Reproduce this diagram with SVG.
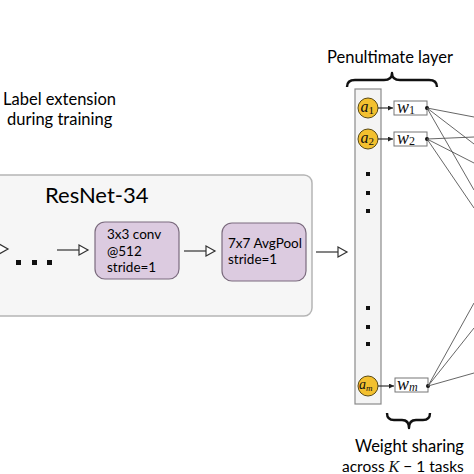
<svg xmlns="http://www.w3.org/2000/svg" width="474" height="474" viewBox="0 0 474 474">
<defs>
<style>
.t{font-family:Lato,"Open Sans","Liberation Sans",sans-serif;fill:#000}
.m{font-family:"Liberation Serif","DejaVu Serif",serif;fill:#111}
.conn{stroke:#333;stroke-width:1.2;fill:none}
.fan{stroke:#555;stroke-width:0.9;fill:none}
.blk{fill:#dccbe0;stroke:#7b6b7e;stroke-width:1.2}
.circ{fill:#f3c02f;stroke:#5a4a14;stroke-width:1}
.wbox{fill:#fff;stroke:#777;stroke-width:1}
.sq{fill:#111}
.brace{fill:none;stroke:#111;stroke-width:2.4;stroke-linejoin:round}
</style>
<marker id="open" markerUnits="userSpaceOnUse" markerWidth="12" markerHeight="12" refX="9" refY="5" orient="auto" viewBox="-1 -1 12 12">
<path d="M0,0 L9,5 L0,10 z" fill="#fff" stroke="#333" stroke-width="1.2"/>
</marker>
<marker id="fill" markerUnits="userSpaceOnUse" markerWidth="6" markerHeight="6" refX="5" refY="2.5" orient="auto" viewBox="0 0 6 6">
<path d="M0,0 L5,2.5 L0,5 z" fill="#222"/>
</marker>
</defs>
<rect width="474" height="474" fill="#fff"/>

<g id="label-extension">
<text class="t" x="3" y="105" font-size="16.5">Label extension</text>
<text class="t" x="7" y="125" font-size="16.5">during training</text>
</g>

<g id="resnet">
<rect x="-20" y="175" width="332" height="141" rx="8" fill="#f6f6f6" stroke="#b5b5b5" stroke-width="1.5"/>
<text class="t" x="45" y="203" font-size="22">ResNet-34</text>
<rect class="sq" x="16" y="260" width="5" height="5"/>
<rect class="sq" x="32" y="260" width="5" height="5"/>
<rect class="sq" x="47" y="260" width="5" height="5"/>
</g>

<g id="conv">
<rect class="blk" x="95" y="222" width="84" height="57" rx="10"/>
<text class="t" x="107" y="239" font-size="13.5">3x3 conv</text>
<text class="t" x="107" y="256" font-size="13.5">@512</text>
<text class="t" x="107" y="272" font-size="13.5">stride=1</text>
</g>

<g id="avgpool">
<rect class="blk" x="222" y="223" width="84" height="58" rx="10"/>
<text class="t" x="228" y="248" font-size="13.5">7x7 AvgPool</text>
<text class="t" x="228" y="264" font-size="13.5">stride=1</text>
</g>

<g id="penultimate">
<text class="t" x="327" y="63" font-size="16.5">Penultimate layer</text>
<path class="brace" d="M347,87 Q347,80 355,80 L384,80 Q392,80 392,73 Q392,80 400,80 L429,80 Q437,80 437,87"/>
<rect x="355" y="89" width="26" height="315" fill="#f4f4f4" stroke="#8a8a8a" stroke-width="1.2"/>
<rect class="sq" x="366" y="172" width="4" height="4"/>
<rect class="sq" x="366" y="191" width="4" height="4"/>
<rect class="sq" x="366" y="209" width="4" height="4"/>
<rect class="sq" x="366" y="306" width="4" height="4"/>
<rect class="sq" x="366" y="325" width="4" height="4"/>
<rect class="sq" x="366" y="342" width="4" height="4"/>
</g>

<g id="a1">
<circle class="circ" cx="368" cy="108" r="10"/>
<text class="m" x="360.5" y="112" font-size="16"><tspan font-style="italic">a</tspan><tspan font-size="11" dy="2">1</tspan></text>
</g>
<g id="a2">
<circle class="circ" cx="368" cy="139" r="10"/>
<text class="m" x="360.5" y="143" font-size="16"><tspan font-style="italic">a</tspan><tspan font-size="11" dy="2">2</tspan></text>
</g>
<g id="am">
<circle class="circ" cx="368" cy="386" r="10"/>
<text class="m" x="359" y="389" font-size="14"><tspan font-style="italic">a</tspan><tspan font-size="9" font-style="italic" dy="2">m</tspan></text>
</g>

<g id="w1">
<rect class="wbox" x="394" y="101" width="33" height="14"/>
<text class="m" x="397" y="112.5" font-size="18"><tspan font-style="italic">w</tspan><tspan font-size="12" dy="1.5">1</tspan></text>
</g>
<g id="w2">
<rect class="wbox" x="394" y="132" width="33" height="14"/>
<text class="m" x="397" y="143.5" font-size="18"><tspan font-style="italic">w</tspan><tspan font-size="12" dy="1.5">2</tspan></text>
</g>
<g id="wm">
<rect class="wbox" x="395" y="378" width="33" height="14"/>
<text class="m" x="397" y="389.5" font-size="18"><tspan font-style="italic">w</tspan><tspan font-size="12" font-style="italic" dy="1.5">m</tspan></text>
</g>

<g id="weight-sharing">
<path class="brace" d="M387,413 Q387,420 394,420 L402,420 Q409,420 409,428 Q409,420 416,420 L423,420 Q430,420 430,413"/>
<text class="t" x="355" y="452" font-size="16.5">Weight sharing</text>
<text class="t" x="342" y="471.5" font-size="15.5">across <tspan class="m" font-style="italic" font-size="16">K</tspan> − 1 tasks</text>
</g>

<g id="connectors">
<line class="conn" x1="-20" y1="249" x2="8" y2="249" marker-end="url(#open)"/>
<line class="conn" x1="57" y1="250" x2="88" y2="250" marker-end="url(#open)"/>
<line class="conn" x1="184" y1="251" x2="215" y2="251" marker-end="url(#open)"/>
<line class="conn" x1="316" y1="252" x2="347" y2="252" marker-end="url(#open)"/>
<line class="conn" x1="378" y1="108" x2="393" y2="108" marker-end="url(#fill)"/>
<line class="conn" x1="378" y1="139" x2="393" y2="139" marker-end="url(#fill)"/>
<line class="conn" x1="378" y1="386" x2="394" y2="386" marker-end="url(#fill)"/>
<circle cx="427" cy="108" r="2" fill="#111"/>
<circle cx="427" cy="139" r="2" fill="#111"/>
<circle cx="428" cy="386" r="2" fill="#111"/>
<line class="fan" x1="427" y1="108" x2="474" y2="117"/>
<line class="fan" x1="427" y1="108" x2="474" y2="144"/>
<line class="fan" x1="427" y1="108" x2="474" y2="190"/>
<line class="fan" x1="427" y1="139" x2="474" y2="137"/>
<line class="fan" x1="427" y1="139" x2="474" y2="163"/>
<line class="fan" x1="427" y1="139" x2="474" y2="208"/>
<line class="fan" x1="428" y1="386" x2="474" y2="303"/>
<line class="fan" x1="428" y1="386" x2="474" y2="328"/>
<line class="fan" x1="428" y1="386" x2="474" y2="373"/>
</g>
</svg>
